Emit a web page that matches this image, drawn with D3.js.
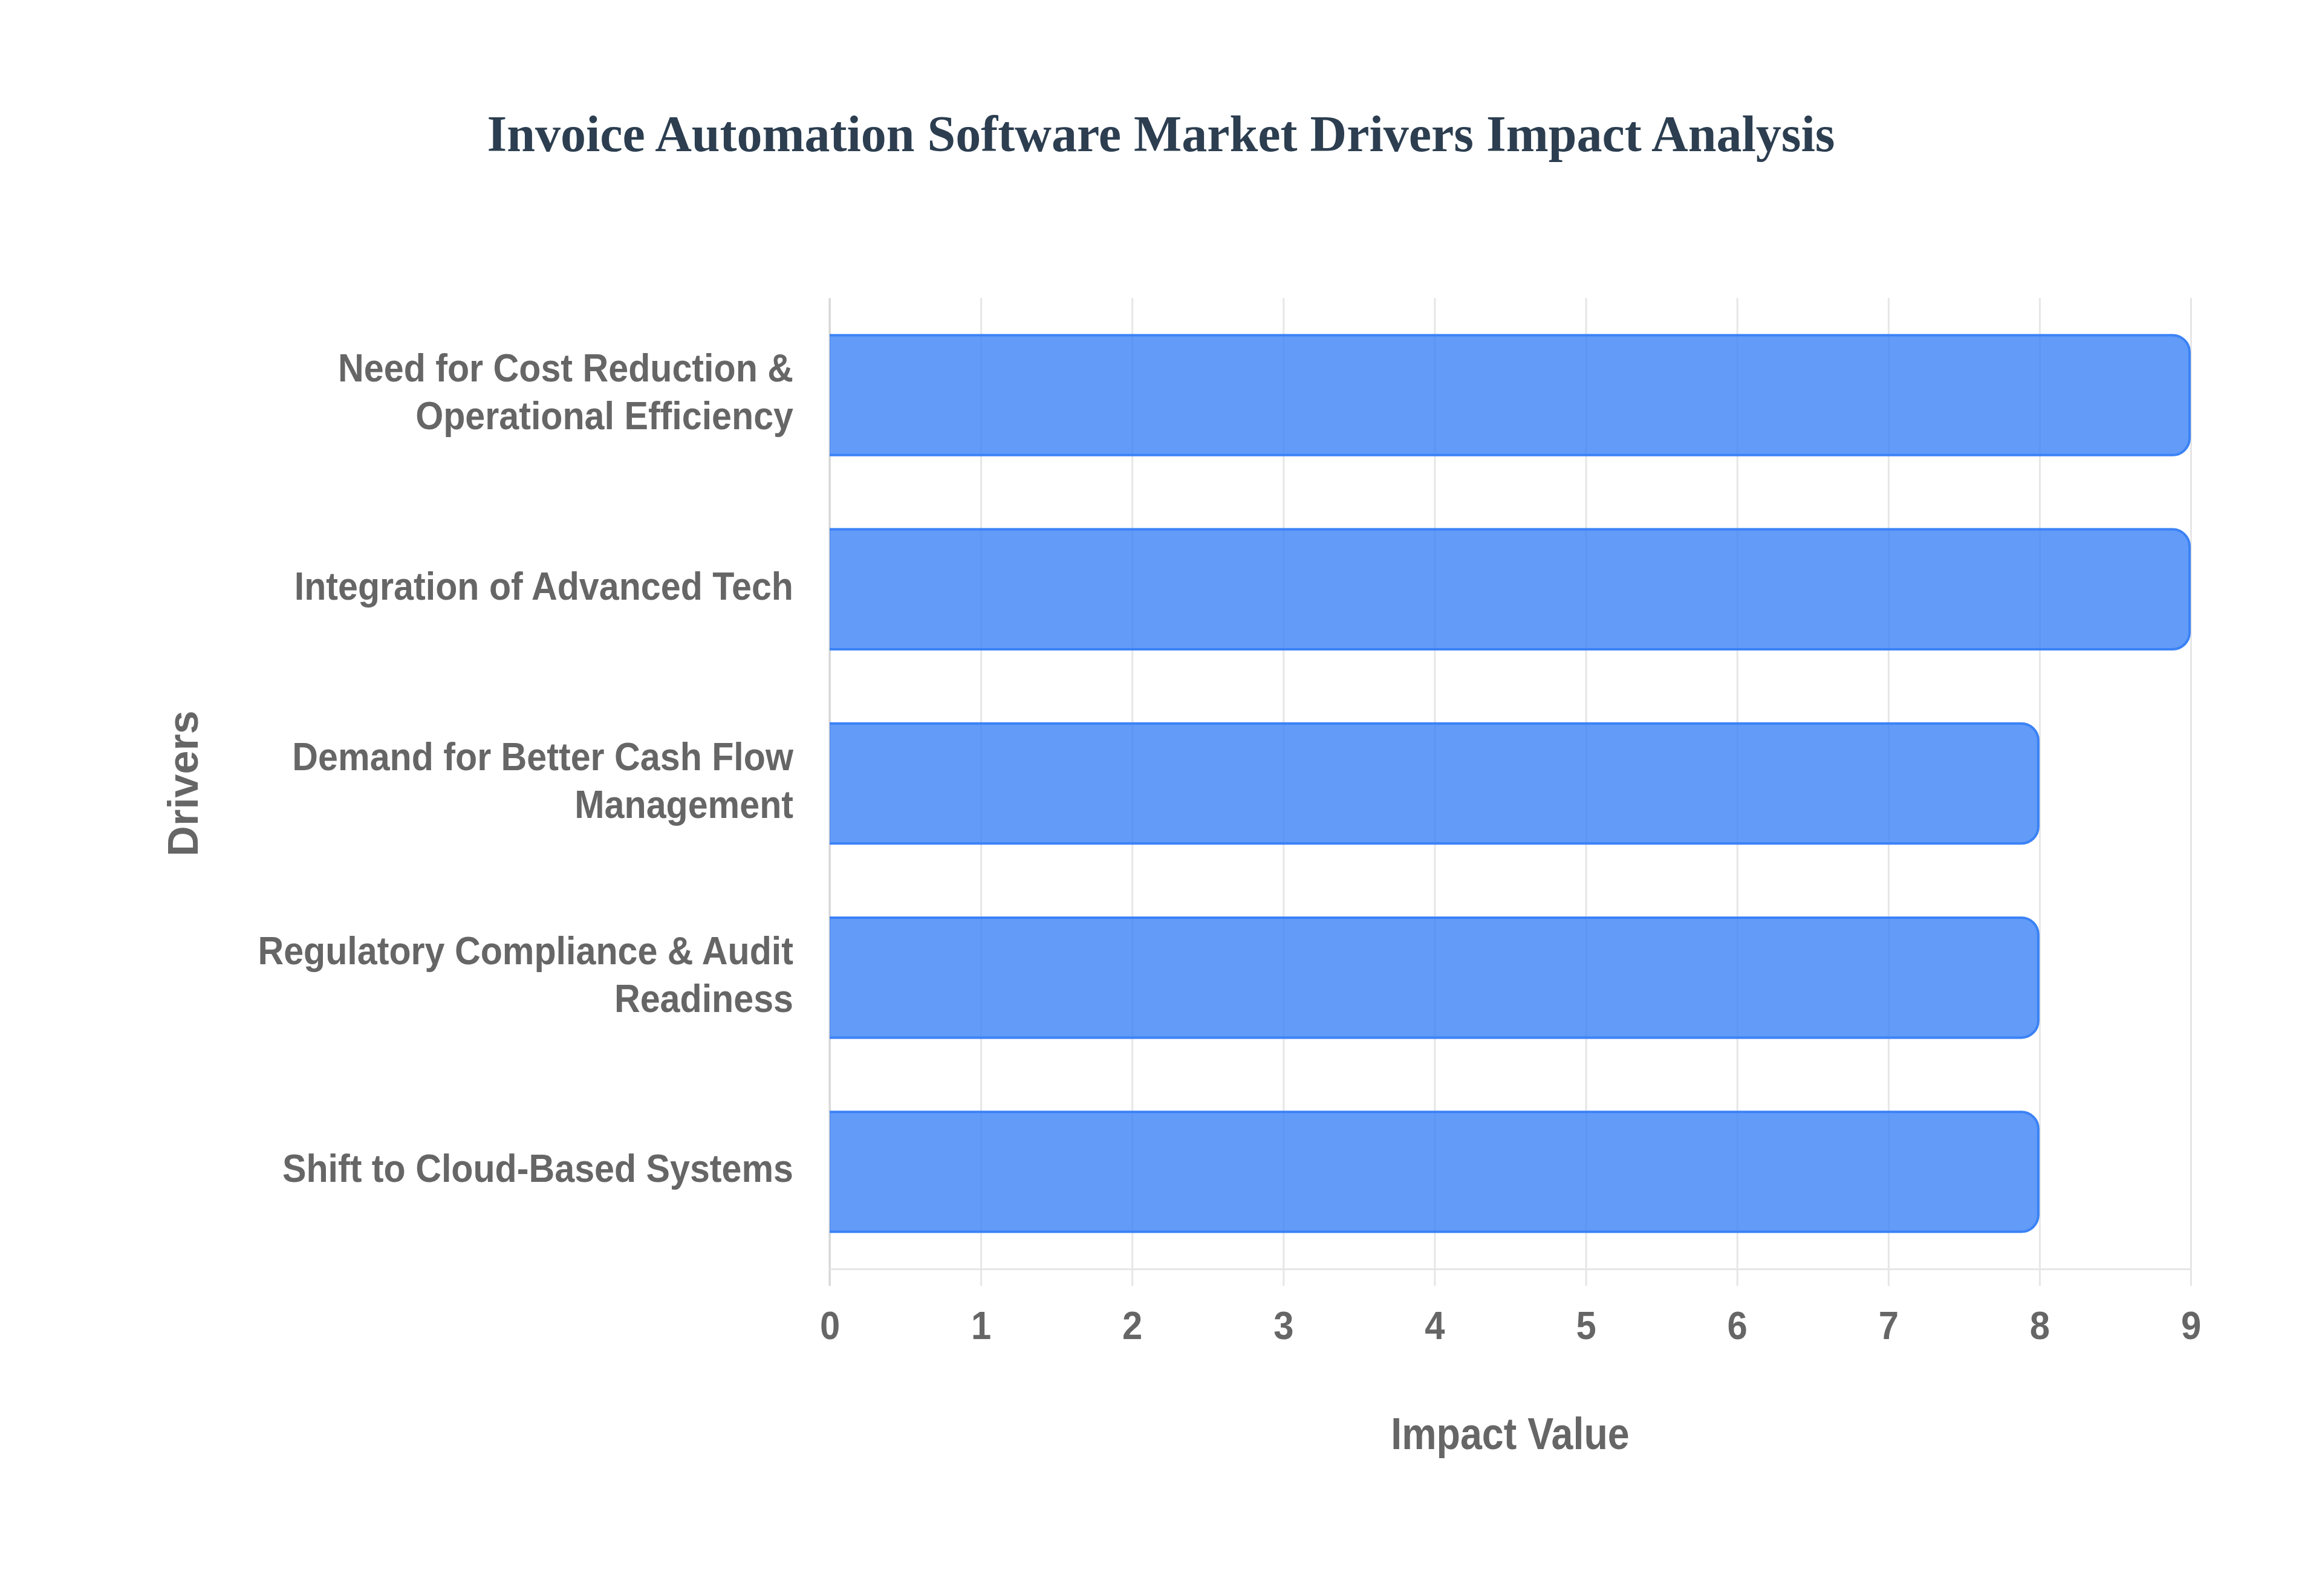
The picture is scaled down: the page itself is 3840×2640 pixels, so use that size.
<!DOCTYPE html>
<html>
<head>
<meta charset="utf-8">
<title>Invoice Automation Software Market Drivers Impact Analysis</title>
<style>
  body { margin: 0; background: #fff; }
  svg { display: block; }
  .sans { font-family: "Liberation Sans", Arial, Helvetica, sans-serif; font-weight: bold; fill: #666; }
  .title { font-family: "Liberation Serif", "Times New Roman", serif; font-weight: bold; fill: #2c3e50; }
</style>
</head>
<body>
<script src="https://cdn.jsdelivr.net/npm/d3@7"></script>
<script>
// chart data
var drivers = [
  "Need for Cost Reduction & Operational Efficiency",
  "Integration of Advanced Tech",
  "Demand for Better Cash Flow Management",
  "Regulatory Compliance & Audit Readiness",
  "Shift to Cloud-Based Systems"
];
var driverLines = [
  ["Need for Cost Reduction &", "Operational Efficiency"],
  ["Integration of Advanced Tech"],
  ["Demand for Better Cash Flow", "Management"],
  ["Regulatory Compliance & Audit", "Readiness"],
  ["Shift to Cloud-Based Systems"]
];
var impact = [9, 9, 8, 8, 8];
var xTicks = [0, 1, 2, 3, 4, 5, 6, 7, 8, 9];

var W = 3840, H = 2640;
var plotLeft = 1372, plotRight = 3623, plotTop = 493, plotBottom = 2099;
var plotH = plotBottom - plotTop;

var svg = d3.select("body").append("svg")
  .attr("width", W)
  .attr("height", H);

var x = d3.scaleLinear().domain([0, 9]).range([plotLeft, plotRight]);
var y = d3.scaleBand().domain(drivers).range([plotTop, plotBottom])
  .paddingInner(0.37).paddingOuter(0.185);

// vertical grid lines (run down past the axis as ticks)
svg.append("g")
  .attr("transform", "translate(0," + plotTop + ")")
  .call(d3.axisBottom(x).tickValues(xTicks).tickSize(plotH + 28).tickFormat(""))
  .call(function (g) {
    g.select(".domain").remove();
    g.selectAll("line").attr("stroke", "#e6e6e6").attr("stroke-width", 3);
  });

// left border
svg.append("line")
  .attr("x1", x(0)).attr("x2", x(0))
  .attr("y1", plotTop).attr("y2", plotBottom + 28)
  .attr("stroke", "#d6d6d6").attr("stroke-width", 3);

// bottom axis with labels
var xAxis = svg.append("g")
  .attr("transform", "translate(0," + plotBottom + ")")
  .call(d3.axisBottom(x).tickValues(xTicks).tickSize(0).tickSizeOuter(0));
xAxis.select(".domain").attr("stroke", "#e6e6e6").attr("stroke-width", 3);
xAxis.selectAll("text")
  .attr("class", "sans")
  .attr("font-size", 65)
  .attr("y", 116).attr("dy", 0)
  .attr("transform", "scale(0.92,1)")
  .attr("fill", "#666");

// bars, square at the start and rounded at the end
var sw = 4, r = 28;
function barPath(d, i) {
  var x0 = x(0), x1 = x(impact[i]) - sw / 2;
  var y0 = y(d) + sw / 2, y1 = y(d) + y.bandwidth() - sw / 2;
  return "M" + x0 + "," + y0 +
    "H" + (x1 - r) +
    "A" + r + "," + r + " 0 0 1 " + x1 + "," + (y0 + r) +
    "V" + (y1 - r) +
    "A" + r + "," + r + " 0 0 1 " + (x1 - r) + "," + y1 +
    "H" + x0;
}
svg.selectAll(".bar")
  .data(drivers)
  .enter().append("path")
  .attr("class", "bar")
  .attr("d", barPath)
  .attr("fill", "rgba(59,130,246,0.8)")
  .attr("stroke", "#3b82f6")
  .attr("stroke-width", sw);

// category labels
var lineGap = 79;
svg.selectAll(".cat")
  .data(drivers)
  .enter().append("text")
  .attr("class", "sans cat")
  .attr("font-size", 64)
  .attr("text-anchor", "end")
  .attr("transform", function (d) {
    return "translate(" + (plotLeft - 60) + "," + (y(d) + y.bandwidth() / 2) + ") scale(0.925,1)";
  })
  .each(function (d, i) {
    var lines = driverLines[i];
    var t = d3.select(this);
    lines.forEach(function (ln, j) {
      t.append("tspan")
        .attr("x", 0)
        .attr("y", (j - (lines.length - 1) / 2) * lineGap + 17)
        .text(ln);
    });
  });

// axis titles
svg.append("text")
  .attr("class", "sans")
  .attr("font-size", 75)
  .attr("text-anchor", "middle")
  .attr("transform", "translate(" + ((plotLeft + plotRight) / 2) + ",2397) scale(0.86,1)")
  .text("Impact Value");

svg.append("text")
  .attr("class", "sans")
  .attr("font-size", 70)
  .attr("text-anchor", "middle")
  .attr("transform", "translate(327," + ((plotTop + plotBottom) / 2) + ") rotate(-90)")
  .text("Drivers");

// title
svg.append("text")
  .attr("class", "title")
  .attr("font-size", 84)
  .attr("text-anchor", "middle")
  .attr("x", 1920)
  .attr("y", 250)
  .text("Invoice Automation Software Market Drivers Impact Analysis");
</script>
</body>
</html>
